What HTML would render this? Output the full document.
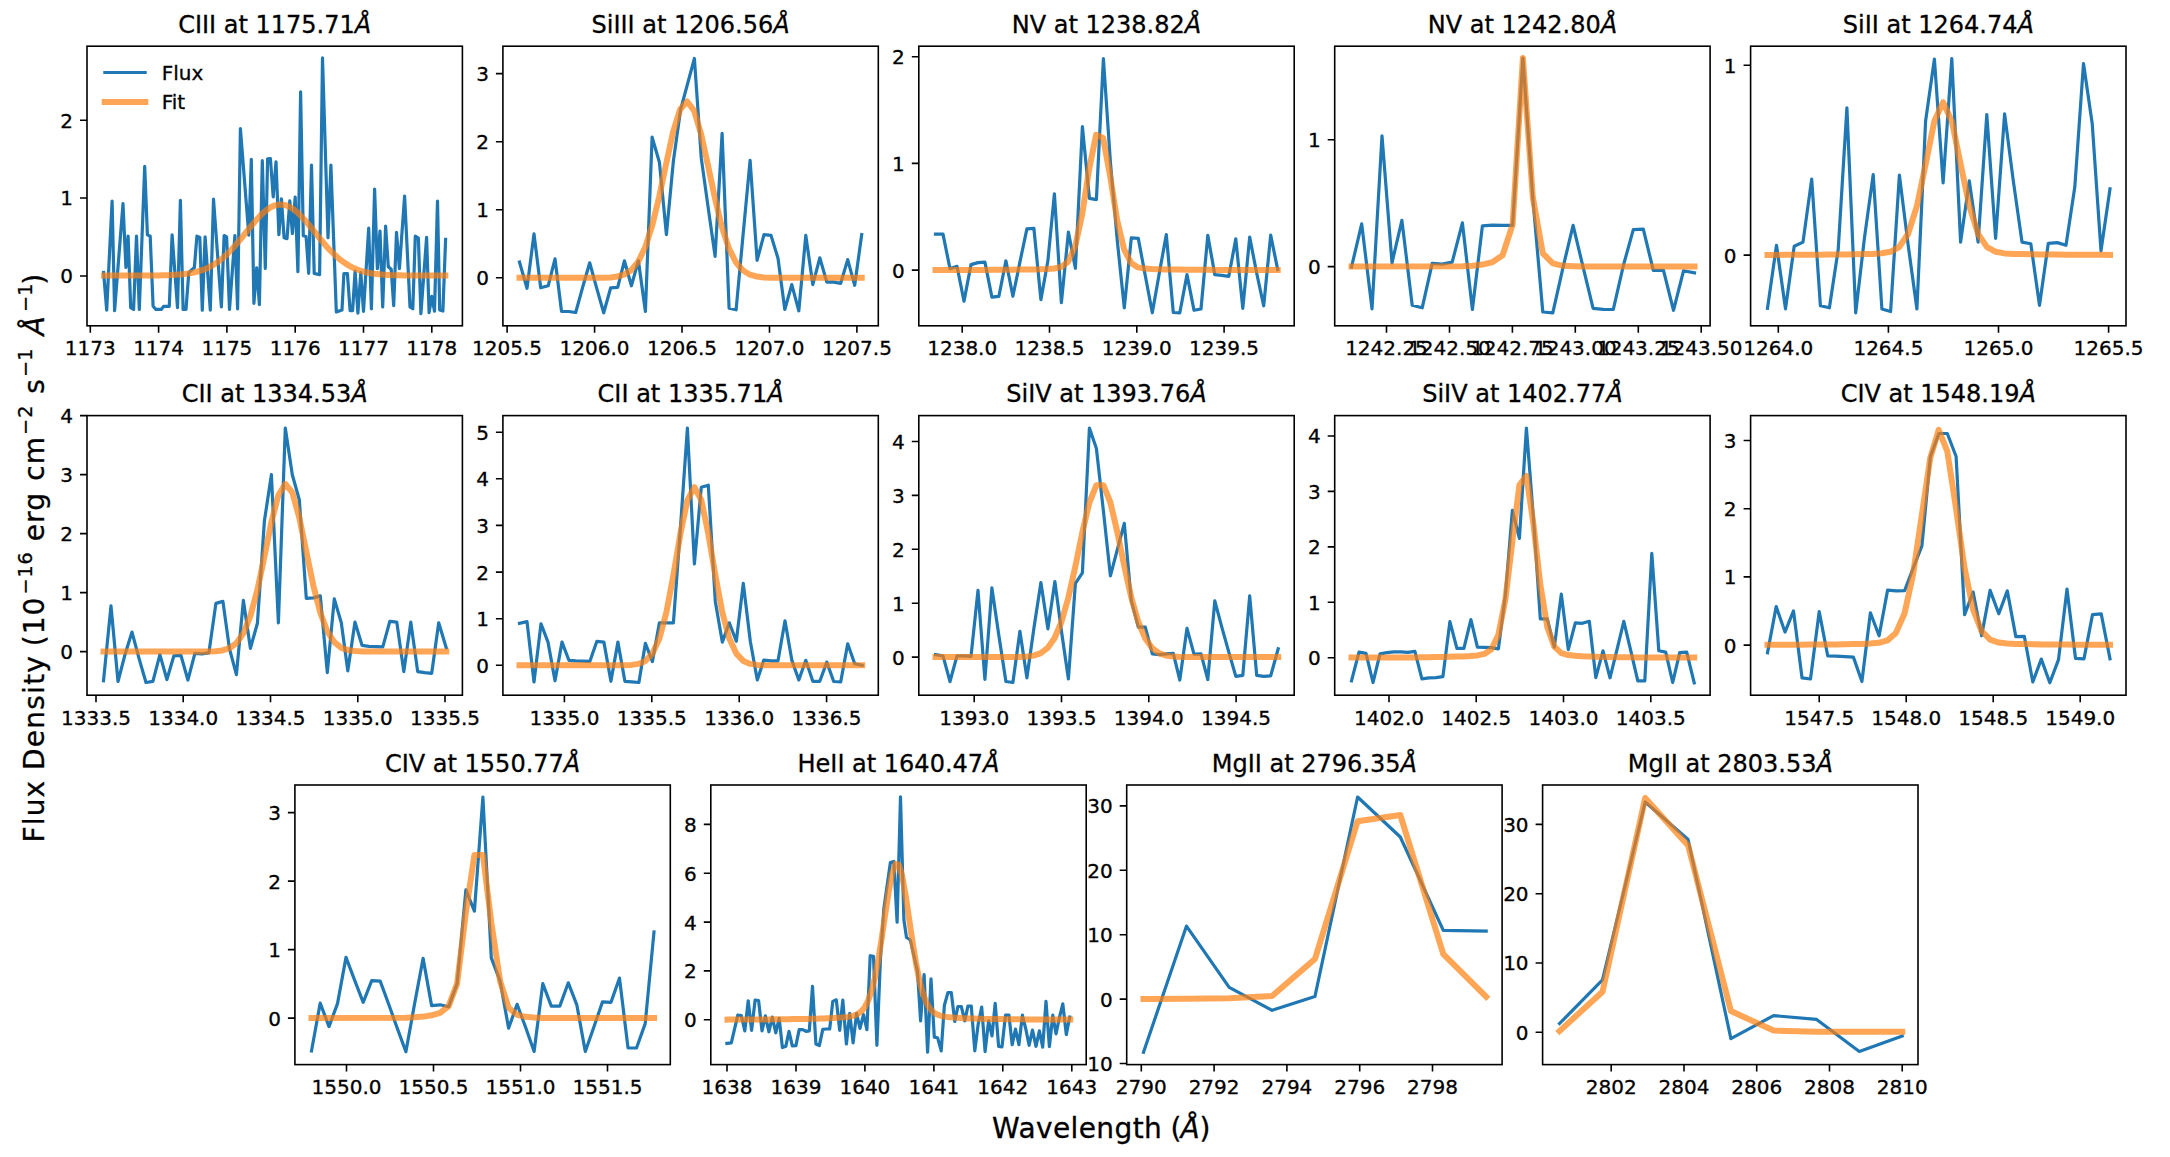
<!DOCTYPE html>
<html lang="en"><head><meta charset="utf-8"><title>Emission line fits</title>
<style>html,body{margin:0;padding:0;background:#fff}svg{display:block}text{font-family:"DejaVu Sans","Liberation Sans",sans-serif;fill:#000;stroke:#000;stroke-width:0.3px}.tk{font-size:20px}.ti{font-size:24px}.al{font-size:28px}.ax{fill:none;stroke:#000;stroke-width:1.6;stroke-linejoin:miter}.t{stroke:#000;stroke-width:1.6}.b{fill:none;stroke:#1f77b4;stroke-width:3.2;stroke-linejoin:round;stroke-linecap:square}.o{fill:none;stroke:#ff7f0e;stroke-opacity:0.7;stroke-width:6;stroke-linejoin:round;stroke-linecap:square}.i{font-style:oblique}</style></head><body>
<svg width="2170" height="1157" viewBox="0 0 2170 1157">
<rect width="2170" height="1157" fill="#fff"/>
<g id="p1">
<clipPath id="c1"><rect x="87.0" y="46.2" width="375.4" height="279.6"/></clipPath>
<rect x="87.0" y="46.2" width="375.4" height="279.6" fill="#fff"/>
<g clip-path="url(#c1)">
<polyline class="b" points="103.6,272.5 106.7,310.1 112.1,201.0 114.6,310.7 123.0,203.5 125.9,267.5 128.1,236.1 130.7,307.6 133.6,309.4 136.5,236.1 139.3,309.4 144.7,166.3 147.4,234.9 150.2,236.1 153.1,306.3 155.9,309.4 161.2,309.4 163.7,306.3 169.3,306.3 172.1,234.9 177.5,307.6 180.4,200.4 183.1,309.4 186.0,309.4 188.8,272.5 194.4,267.5 196.9,236.1 199.8,237.4 202.3,310.1 205.1,236.8 210.3,310.1 213.5,199.2 221.4,306.9 224.1,235.5 226.6,236.8 229.5,309.4 234.9,235.5 237.6,308.8 240.4,128.7 248.8,235.2 251.3,159.4 253.9,303.3 256.7,267.8 259.4,304.6 262.3,160.7 265.3,268.4 267.6,158.8 270.4,158.5 273.2,197.0 276.0,161.9 278.9,234.6 281.4,198.9 284.1,237.7 287.0,238.7 289.8,200.8 292.4,233.7 295.2,197.0 297.9,271.6 300.6,91.8 303.3,235.8 306.1,236.5 308.7,273.4 311.5,165.0 314.2,273.4 319.6,274.7 322.5,57.9 328.0,237.7 330.9,165.0 336.3,311.9 342.0,310.0 343.9,273.7 347.4,273.5 350.1,310.7 352.6,310.7 355.1,271.2 357.9,313.2 360.8,272.5 363.5,311.3 368.7,228.0 371.4,308.8 374.6,189.1 377.4,268.7 380.0,231.1 382.7,306.9 385.6,226.1 388.3,266.8 391.2,269.3 393.7,305.7 396.5,232.4 399.4,268.7 404.6,196.0 410.0,306.9 412.8,308.8 415.3,236.1 418.4,238.0 420.9,313.6 426.6,237.4 429.1,312.6 431.8,296.3 434.5,311.1 437.5,201.0 439.7,310.0 442.9,311.0 445.6,239.3"/>
<polyline class="o" points="104.1,275.5 106.9,275.5 109.6,275.5 112.4,275.5 115.1,275.5 117.9,275.5 120.6,275.5 123.4,275.5 126.1,275.5 128.9,275.5 131.6,275.5 134.4,275.5 137.1,275.5 139.9,275.5 142.6,275.5 145.4,275.5 148.1,275.5 150.9,275.4 153.6,275.4 156.4,275.4 159.1,275.4 161.9,275.3 164.6,275.2 167.4,275.2 170.1,275.1 172.9,275.0 175.6,274.8 178.4,274.6 181.1,274.4 183.9,274.1 186.6,273.7 189.4,273.3 192.2,272.8 194.9,272.2 197.7,271.5 200.4,270.7 203.2,269.7 205.9,268.6 208.7,267.4 211.4,265.9 214.2,264.3 216.9,262.5 219.7,260.5 222.4,258.3 225.2,255.9 227.9,253.3 230.7,250.5 233.4,247.5 236.2,244.4 238.9,241.1 241.7,237.8 244.4,234.4 247.2,231.0 249.9,227.5 252.7,224.2 255.4,221.0 258.2,217.9 260.9,215.0 263.7,212.4 266.4,210.2 269.2,208.2 271.9,206.6 274.7,205.5 277.5,204.8 280.2,204.5 283.0,204.7 285.7,205.3 288.5,206.4 291.2,207.8 294.0,209.7 296.7,211.9 299.5,214.5 302.2,217.3 305.0,220.3 307.7,223.5 310.5,226.8 313.2,230.2 316.0,233.7 318.7,237.1 321.5,240.4 324.2,243.7 327.0,246.9 329.7,249.9 332.5,252.7 335.2,255.3 338.0,257.8 340.7,260.0 343.5,262.1 346.2,263.9 349.0,265.6 351.7,267.1 354.5,268.4 357.2,269.5 360.0,270.5 362.8,271.4 365.5,272.1 368.3,272.7 371.0,273.2 373.8,273.7 376.5,274.0 379.3,274.3 382.0,274.6 384.8,274.8 387.5,274.9 390.3,275.1 393.0,275.2 395.8,275.2 398.5,275.3 401.3,275.3 404.0,275.4 406.8,275.4 409.5,275.4 412.3,275.5 415.0,275.5 417.8,275.5 420.5,275.5 423.3,275.5 426.0,275.5 428.8,275.5 431.5,275.5 434.3,275.5 437.0,275.5 439.8,275.5 442.5,275.5 445.3,275.5"/>
</g>
<path class="t" d="M90.3 325.8v7.0M158.6 325.8v7.0M226.9 325.8v7.0M295.2 325.8v7.0M363.5 325.8v7.0M431.8 325.8v7.0M87.0 276.0h-7.0M87.0 198.0h-7.0M87.0 120.2h-7.0"/>
<rect class="ax" x="87.0" y="46.2" width="375.4" height="279.6"/>
<text class="tk" x="90.3" y="355.1" text-anchor="middle">1173</text>
<text class="tk" x="158.6" y="355.1" text-anchor="middle">1174</text>
<text class="tk" x="226.9" y="355.1" text-anchor="middle">1175</text>
<text class="tk" x="295.2" y="355.1" text-anchor="middle">1176</text>
<text class="tk" x="363.5" y="355.1" text-anchor="middle">1177</text>
<text class="tk" x="431.8" y="355.1" text-anchor="middle">1178</text>
<text class="tk" x="73.0" y="283.4" text-anchor="end">0</text>
<text class="tk" x="73.0" y="205.4" text-anchor="end">1</text>
<text class="tk" x="73.0" y="127.6" text-anchor="end">2</text>
<text class="ti" x="274.7" y="32.8" text-anchor="middle">CIII at 1175.71<tspan class="i">Å</tspan></text>
<path class="b" style="stroke-linecap:butt" d="M103.3 72.5H146.7"/>
<path class="o" style="stroke-linecap:butt" d="M101.7 102H148.3"/>
<text class="tk" x="161.7" y="79.8">Flux</text>
<text class="tk" x="161.7" y="109">Fit</text>
</g>
<g id="p2">
<clipPath id="c2"><rect x="502.9" y="46.2" width="375.4" height="279.6"/></clipPath>
<rect x="502.9" y="46.2" width="375.4" height="279.6" fill="#fff"/>
<g clip-path="url(#c2)">
<polyline class="b" points="519.5,262.1 527.0,288.3 534.0,233.9 540.7,287.8 548.2,285.8 555.0,258.8 561.5,311.3 568.7,311.5 575.7,312.5 582.7,287.1 589.7,262.8 596.4,287.1 603.7,312.8 610.7,287.8 617.7,287.3 624.4,260.8 631.4,285.8 638.4,260.8 645.4,311.5 652.1,137.2 659.4,162.2 666.4,234.6 673.4,160.9 680.6,109.7 694.4,58.5 701.3,158.4 708.1,207.1 715.1,256.3 722.1,133.4 729.1,308.3 736.1,309.8 743.1,234.6 750.1,160.4 757.1,260.3 764.0,234.6 771.0,235.4 778.0,258.3 784.8,309.5 791.8,284.6 798.8,310.8 805.8,235.4 812.8,284.6 819.8,257.8 826.8,282.1 833.7,282.1 840.7,283.3 847.7,259.6 854.7,285.3 861.7,234.6"/>
<polyline class="o" points="519.5,277.8 526.5,277.8 533.5,277.8 540.4,277.8 547.4,277.8 554.4,277.8 561.4,277.8 568.4,277.8 575.4,277.8 582.3,277.8 589.3,277.8 596.3,277.8 603.3,277.7 610.3,277.4 617.3,276.5 624.3,274.5 631.2,270.1 638.2,261.7 645.2,247.3 652.2,225.5 659.2,196.6 666.2,163.5 673.1,132.0 680.1,109.4 687.1,101.5 694.1,110.6 701.1,134.1 708.1,165.9 715.1,198.9 722.0,227.4 729.0,248.6 736.0,262.5 743.0,270.5 750.0,274.7 757.0,276.6 763.9,277.4 770.9,277.7 777.9,277.8 784.9,277.8 791.9,277.8 798.9,277.8 805.8,277.8 812.8,277.8 819.8,277.8 826.8,277.8 833.8,277.8 840.8,277.8 847.8,277.8 854.7,277.8 861.7,277.8"/>
</g>
<path class="t" d="M507.1 325.8v7.0M594.6 325.8v7.0M682.0 325.8v7.0M769.5 325.8v7.0M856.9 325.8v7.0M502.9 277.8h-7.0M502.9 209.8h-7.0M502.9 141.7h-7.0M502.9 73.6h-7.0"/>
<rect class="ax" x="502.9" y="46.2" width="375.4" height="279.6"/>
<text class="tk" x="507.1" y="355.1" text-anchor="middle">1205.5</text>
<text class="tk" x="594.6" y="355.1" text-anchor="middle">1206.0</text>
<text class="tk" x="682.0" y="355.1" text-anchor="middle">1206.5</text>
<text class="tk" x="769.5" y="355.1" text-anchor="middle">1207.0</text>
<text class="tk" x="856.9" y="355.1" text-anchor="middle">1207.5</text>
<text class="tk" x="488.9" y="285.2" text-anchor="end">0</text>
<text class="tk" x="488.9" y="217.2" text-anchor="end">1</text>
<text class="tk" x="488.9" y="149.1" text-anchor="end">2</text>
<text class="tk" x="488.9" y="81.0" text-anchor="end">3</text>
<text class="ti" x="690.6" y="32.8" text-anchor="middle">SiIII at 1206.56<tspan class="i">Å</tspan></text>
</g>
<g id="p3">
<clipPath id="c3"><rect x="918.8" y="46.2" width="375.4" height="279.6"/></clipPath>
<rect x="918.8" y="46.2" width="375.4" height="279.6" fill="#fff"/>
<g clip-path="url(#c3)">
<polyline class="b" points="935.5,234.1 943.0,234.1 950.0,268.8 957.0,266.3 964.0,301.3 971.0,264.6 978.0,262.6 984.9,262.1 991.9,297.1 998.9,296.3 1005.9,260.8 1012.9,296.3 1019.9,262.1 1026.9,228.9 1033.9,228.4 1040.9,299.6 1047.9,260.8 1054.4,193.9 1061.4,302.6 1068.4,232.1 1075.4,268.3 1082.4,126.7 1089.4,198.4 1096.4,199.6 1103.4,58.5 1110.4,162.2 1117.3,240.9 1124.3,307.8 1131.3,237.9 1138.3,238.4 1145.3,275.8 1152.3,312.8 1159.3,273.3 1166.3,234.6 1173.3,312.5 1179.8,312.8 1187.0,274.6 1194.0,310.3 1201.0,309.0 1207.8,235.4 1214.8,274.6 1221.8,275.3 1228.8,276.3 1235.8,238.9 1242.8,308.3 1249.7,237.1 1256.7,273.3 1263.7,305.8 1270.7,235.1 1277.7,269.6"/>
<polyline class="o" points="935.5,270.0 942.5,270.0 949.5,269.9 956.4,269.9 963.4,269.9 970.4,269.9 977.4,269.9 984.4,269.9 991.4,269.8 998.3,269.8 1005.3,269.7 1012.3,269.7 1019.3,269.6 1026.3,269.5 1033.3,269.4 1040.3,269.3 1047.2,269.0 1054.2,268.5 1061.2,267.0 1068.2,261.6 1075.2,246.3 1082.2,214.1 1089.1,169.3 1096.1,134.8 1103.1,137.9 1110.1,175.9 1117.1,219.9 1124.1,249.4 1131.1,262.9 1138.0,267.4 1145.0,268.6 1152.0,269.1 1159.0,269.3 1166.0,269.4 1173.0,269.5 1179.9,269.6 1186.9,269.7 1193.9,269.8 1200.9,269.8 1207.9,269.8 1214.9,269.9 1221.8,269.9 1228.8,269.9 1235.8,269.9 1242.8,269.9 1249.8,269.9 1256.8,270.0 1263.8,270.0 1270.7,270.0 1277.7,270.0"/>
</g>
<path class="t" d="M962.2 325.8v7.0M1049.5 325.8v7.0M1136.8 325.8v7.0M1224.1 325.8v7.0M918.8 270.1h-7.0M918.8 163.4h-7.0M918.8 56.7h-7.0"/>
<rect class="ax" x="918.8" y="46.2" width="375.4" height="279.6"/>
<text class="tk" x="962.2" y="355.1" text-anchor="middle">1238.0</text>
<text class="tk" x="1049.5" y="355.1" text-anchor="middle">1238.5</text>
<text class="tk" x="1136.8" y="355.1" text-anchor="middle">1239.0</text>
<text class="tk" x="1224.1" y="355.1" text-anchor="middle">1239.5</text>
<text class="tk" x="904.8" y="277.5" text-anchor="end">0</text>
<text class="tk" x="904.8" y="170.8" text-anchor="end">1</text>
<text class="tk" x="904.8" y="64.1" text-anchor="end">2</text>
<text class="ti" x="1106.5" y="32.8" text-anchor="middle">NV at 1238.82<tspan class="i">Å</tspan></text>
</g>
<g id="p4">
<clipPath id="c4"><rect x="1334.7" y="46.2" width="375.4" height="279.6"/></clipPath>
<rect x="1334.7" y="46.2" width="375.4" height="279.6" fill="#fff"/>
<g clip-path="url(#c4)">
<polyline class="b" points="1351.5,267.1 1361.7,223.9 1372.0,308.8 1382.0,135.9 1392.0,262.8 1401.9,220.4 1412.2,305.3 1422.2,307.8 1432.2,263.3 1442.2,264.1 1452.2,262.1 1462.4,222.9 1472.4,309.5 1482.4,225.9 1492.6,225.1 1502.6,225.4 1512.6,225.4 1522.9,58.0 1532.8,198.4 1542.8,312.0 1552.8,312.8 1563.1,267.1 1573.1,225.4 1583.1,267.1 1593.1,308.3 1603.3,309.3 1613.3,309.5 1623.3,265.8 1633.3,229.6 1643.3,229.1 1653.3,270.3 1663.5,270.3 1673.5,310.3 1683.5,270.8 1694.5,272.8"/>
<polyline class="o" points="1351.5,266.6 1462.4,266.3 1472.4,265.8 1482.4,264.6 1492.6,262.1 1502.6,255.3 1512.6,224.6 1522.9,58.0 1532.8,197.1 1542.8,253.3 1552.8,263.3 1563.1,265.8 1573.1,266.3 1583.1,266.6 1694.5,266.6"/>
</g>
<path class="t" d="M1386.5 325.8v7.0M1449.5 325.8v7.0M1512.4 325.8v7.0M1575.3 325.8v7.0M1638.3 325.8v7.0M1701.2 325.8v7.0M1334.7 266.6h-7.0M1334.7 139.7h-7.0"/>
<rect class="ax" x="1334.7" y="46.2" width="375.4" height="279.6"/>
<text class="tk" x="1386.5" y="355.1" text-anchor="middle">1242.25</text>
<text class="tk" x="1449.5" y="355.1" text-anchor="middle">1242.50</text>
<text class="tk" x="1512.4" y="355.1" text-anchor="middle">1242.75</text>
<text class="tk" x="1575.3" y="355.1" text-anchor="middle">1243.00</text>
<text class="tk" x="1638.3" y="355.1" text-anchor="middle">1243.25</text>
<text class="tk" x="1701.2" y="355.1" text-anchor="middle">1243.50</text>
<text class="tk" x="1320.7" y="274.0" text-anchor="end">0</text>
<text class="tk" x="1320.7" y="147.1" text-anchor="end">1</text>
<text class="ti" x="1522.4" y="32.8" text-anchor="middle">NV at 1242.80<tspan class="i">Å</tspan></text>
</g>
<g id="p5">
<clipPath id="c5"><rect x="1750.6" y="46.2" width="375.4" height="279.6"/></clipPath>
<rect x="1750.6" y="46.2" width="375.4" height="279.6" fill="#fff"/>
<g clip-path="url(#c5)">
<polyline class="b" points="1767.5,308.3 1776.5,245.3 1785.5,308.8 1794.2,246.3 1803.0,242.1 1811.7,179.1 1820.4,305.8 1829.4,307.8 1838.2,249.6 1846.9,107.9 1855.7,312.8 1864.4,238.4 1873.2,174.6 1881.9,309.0 1890.6,311.5 1899.4,175.1 1908.1,244.6 1916.9,309.0 1925.6,120.9 1934.4,59.0 1943.1,182.9 1951.8,58.5 1960.6,242.1 1969.3,180.9 1978.1,242.1 1986.8,114.7 1995.6,238.4 2004.6,113.9 2013.3,180.9 2022.0,242.1 2030.8,243.8 2039.5,305.3 2048.3,243.3 2057.3,242.6 2066.0,245.3 2074.8,187.1 2083.5,63.5 2092.2,123.4 2101.0,250.8 2110.0,188.9"/>
<polyline class="o" points="1767.5,254.9 1776.3,254.9 1785.0,254.8 1793.8,254.8 1802.6,254.8 1811.4,254.7 1820.2,254.7 1829.0,254.6 1837.7,254.5 1846.5,254.4 1855.3,254.3 1864.1,254.1 1872.9,253.9 1881.6,253.3 1890.4,251.8 1899.2,247.0 1908.0,234.0 1916.8,206.5 1925.6,164.4 1934.3,121.3 1943.1,102.2 1951.9,121.4 1960.7,164.6 1969.5,206.7 1978.2,234.1 1987.0,247.1 1995.8,251.8 2004.6,253.4 2013.4,253.9 2022.2,254.1 2030.9,254.3 2039.7,254.4 2048.5,254.5 2057.3,254.6 2066.1,254.7 2074.8,254.7 2083.6,254.8 2092.4,254.8 2101.2,254.8 2110.0,254.9"/>
</g>
<path class="t" d="M1778.3 325.8v7.0M1888.4 325.8v7.0M1998.5 325.8v7.0M2108.6 325.8v7.0M1750.6 255.1h-7.0M1750.6 65.2h-7.0"/>
<rect class="ax" x="1750.6" y="46.2" width="375.4" height="279.6"/>
<text class="tk" x="1778.3" y="355.1" text-anchor="middle">1264.0</text>
<text class="tk" x="1888.4" y="355.1" text-anchor="middle">1264.5</text>
<text class="tk" x="1998.5" y="355.1" text-anchor="middle">1265.0</text>
<text class="tk" x="2108.6" y="355.1" text-anchor="middle">1265.5</text>
<text class="tk" x="1736.6" y="262.5" text-anchor="end">0</text>
<text class="tk" x="1736.6" y="72.6" text-anchor="end">1</text>
<text class="ti" x="1938.3" y="32.8" text-anchor="middle">SiII at 1264.74<tspan class="i">Å</tspan></text>
</g>
<g id="p6">
<clipPath id="c6"><rect x="87.0" y="415.6" width="375.4" height="279.6"/></clipPath>
<rect x="87.0" y="415.6" width="375.4" height="279.6" fill="#fff"/>
<g clip-path="url(#c6)">
<polyline class="b" points="103.5,680.8 111.0,605.9 118.0,681.5 125.0,654.6 132.0,632.1 139.0,658.3 146.0,682.5 152.9,681.3 159.9,654.6 166.9,679.5 173.9,655.8 180.9,655.3 187.9,680.0 194.9,653.3 201.9,653.8 208.9,652.8 215.9,603.4 222.9,601.4 229.4,648.3 236.4,674.6 243.4,600.4 250.4,648.3 257.4,623.3 264.4,520.9 271.4,474.7 278.4,622.8 285.3,428.0 292.3,474.7 299.3,499.7 306.3,598.4 313.3,597.9 320.3,595.9 327.3,672.6 334.3,598.9 341.3,622.8 347.8,670.8 355.0,622.1 362.0,645.3 369.0,646.3 375.8,646.6 382.8,646.8 389.8,621.3 396.8,622.1 403.8,671.6 410.8,622.1 417.7,671.6 424.7,672.6 431.7,673.3 438.7,622.8 446.2,647.8"/>
<polyline class="o" points="103.5,651.6 110.5,651.6 117.5,651.6 124.5,651.6 131.5,651.6 138.5,651.6 145.5,651.6 152.4,651.6 159.4,651.6 166.4,651.6 173.4,651.6 180.4,651.6 187.4,651.6 194.4,651.6 201.4,651.5 208.4,651.5 215.4,651.2 222.4,650.4 229.4,648.2 236.4,643.3 243.4,633.3 250.4,615.9 257.4,589.8 264.4,556.6 271.4,522.1 278.4,495.1 285.3,484.0 292.3,492.4 299.3,517.6 306.3,551.5 313.3,585.4 320.3,612.7 327.3,631.4 334.3,642.2 341.3,647.8 348.3,650.2 355.3,651.1 362.3,651.4 369.3,651.5 376.3,651.6 383.3,651.6 390.3,651.6 397.3,651.6 404.3,651.6 411.3,651.6 418.2,651.6 425.2,651.6 432.2,651.6 439.2,651.6 446.2,651.6"/>
</g>
<path class="t" d="M96.0 695.2v7.0M183.2 695.2v7.0M270.5 695.2v7.0M357.8 695.2v7.0M445.0 695.2v7.0M87.0 651.6h-7.0M87.0 592.6h-7.0M87.0 533.6h-7.0M87.0 474.6h-7.0M87.0 415.6h-7.0"/>
<rect class="ax" x="87.0" y="415.6" width="375.4" height="279.6"/>
<text class="tk" x="96.0" y="724.5" text-anchor="middle">1333.5</text>
<text class="tk" x="183.2" y="724.5" text-anchor="middle">1334.0</text>
<text class="tk" x="270.5" y="724.5" text-anchor="middle">1334.5</text>
<text class="tk" x="357.8" y="724.5" text-anchor="middle">1335.0</text>
<text class="tk" x="445.0" y="724.5" text-anchor="middle">1335.5</text>
<text class="tk" x="73.0" y="659.0" text-anchor="end">0</text>
<text class="tk" x="73.0" y="600.0" text-anchor="end">1</text>
<text class="tk" x="73.0" y="541.0" text-anchor="end">2</text>
<text class="tk" x="73.0" y="482.0" text-anchor="end">3</text>
<text class="tk" x="73.0" y="423.0" text-anchor="end">4</text>
<text class="ti" x="274.7" y="402.2" text-anchor="middle">CII at 1334.53<tspan class="i">Å</tspan></text>
</g>
<g id="p7">
<clipPath id="c7"><rect x="502.9" y="415.6" width="375.4" height="279.6"/></clipPath>
<rect x="502.9" y="415.6" width="375.4" height="279.6" fill="#fff"/>
<g clip-path="url(#c7)">
<polyline class="b" points="519.5,623.3 527.0,621.6 534.0,682.0 541.0,623.8 548.0,642.1 555.0,680.8 562.0,642.1 568.9,660.3 575.9,660.8 582.9,661.1 589.9,661.3 596.9,641.3 603.9,642.1 610.9,681.3 617.9,642.1 624.9,681.3 631.9,681.8 638.9,682.5 645.4,643.3 652.4,661.6 659.4,622.8 666.4,622.8 673.4,622.8 680.4,528.4 687.4,428.0 694.4,563.9 701.3,487.2 708.3,485.2 715.3,601.4 722.3,642.1 729.3,622.8 736.3,641.3 743.3,583.4 750.3,641.3 757.3,680.0 763.8,660.1 771.0,660.8 778.0,660.8 785.0,620.8 791.8,660.1 798.8,680.0 805.8,660.3 812.8,681.3 819.8,681.3 826.8,662.1 833.7,681.5 840.7,682.0 847.7,643.8 854.7,663.8 862.2,665.3"/>
<polyline class="o" points="519.5,665.3 526.5,665.3 533.5,665.3 540.5,665.3 547.5,665.3 554.5,665.3 561.5,665.3 568.4,665.3 575.4,665.3 582.4,665.3 589.4,665.3 596.4,665.3 603.4,665.3 610.4,665.3 617.4,665.3 624.4,665.2 631.4,664.9 638.4,663.9 645.4,660.9 652.4,653.6 659.4,638.4 666.4,612.2 673.4,575.1 680.4,533.7 687.4,500.2 694.4,487.2 701.3,500.2 708.3,533.7 715.3,575.1 722.3,612.2 729.3,638.4 736.3,653.6 743.3,660.9 750.3,663.9 757.3,664.9 764.3,665.2 771.3,665.3 778.3,665.3 785.3,665.3 792.3,665.3 799.3,665.3 806.3,665.3 813.3,665.3 820.3,665.3 827.3,665.3 834.2,665.3 841.2,665.3 848.2,665.3 855.2,665.3 862.2,665.3"/>
</g>
<path class="t" d="M564.4 695.2v7.0M651.8 695.2v7.0M739.2 695.2v7.0M826.6 695.2v7.0M502.9 665.3h-7.0M502.9 618.7h-7.0M502.9 572.1h-7.0M502.9 525.4h-7.0M502.9 478.8h-7.0M502.9 432.2h-7.0"/>
<rect class="ax" x="502.9" y="415.6" width="375.4" height="279.6"/>
<text class="tk" x="564.4" y="724.5" text-anchor="middle">1335.0</text>
<text class="tk" x="651.8" y="724.5" text-anchor="middle">1335.5</text>
<text class="tk" x="739.2" y="724.5" text-anchor="middle">1336.0</text>
<text class="tk" x="826.6" y="724.5" text-anchor="middle">1336.5</text>
<text class="tk" x="488.9" y="672.7" text-anchor="end">0</text>
<text class="tk" x="488.9" y="626.1" text-anchor="end">1</text>
<text class="tk" x="488.9" y="579.5" text-anchor="end">2</text>
<text class="tk" x="488.9" y="532.8" text-anchor="end">3</text>
<text class="tk" x="488.9" y="486.2" text-anchor="end">4</text>
<text class="tk" x="488.9" y="439.6" text-anchor="end">5</text>
<text class="ti" x="690.6" y="402.2" text-anchor="middle">CII at 1335.71<tspan class="i">Å</tspan></text>
</g>
<g id="p8">
<clipPath id="c8"><rect x="918.8" y="415.6" width="375.4" height="279.6"/></clipPath>
<rect x="918.8" y="415.6" width="375.4" height="279.6" fill="#fff"/>
<g clip-path="url(#c8)">
<polyline class="b" points="935.5,654.6 943.0,655.8 950.0,681.5 957.0,655.8 964.0,655.8 971.0,656.3 978.0,590.4 984.9,679.5 991.9,587.9 998.9,635.8 1005.9,681.5 1012.9,682.5 1019.9,631.3 1026.9,677.8 1033.9,628.3 1040.9,582.6 1047.9,628.8 1054.9,581.6 1061.4,630.8 1068.4,679.0 1075.4,583.4 1082.4,572.9 1089.4,428.0 1096.4,448.5 1103.4,510.9 1110.4,575.9 1117.3,549.6 1124.3,523.4 1131.3,600.9 1138.3,627.1 1145.3,627.1 1152.3,653.8 1159.3,654.6 1166.3,653.8 1173.3,653.3 1179.8,680.0 1187.0,628.3 1194.0,654.1 1201.0,653.8 1207.8,679.5 1214.8,600.9 1221.8,627.1 1228.8,652.1 1235.8,676.3 1242.8,675.3 1249.7,595.9 1256.7,675.3 1263.7,676.3 1270.7,675.8 1278.2,648.8"/>
<polyline class="o" points="935.5,657.1 942.5,657.1 949.5,657.1 956.5,657.1 963.5,657.1 970.5,657.1 977.5,657.1 984.4,657.1 991.4,657.1 998.4,657.1 1005.4,657.1 1012.4,657.0 1019.4,656.9 1026.4,656.6 1033.4,655.6 1040.4,653.3 1047.4,648.2 1054.4,638.5 1061.4,622.0 1068.4,597.5 1075.4,566.1 1082.4,532.0 1089.4,502.5 1096.4,485.2 1103.4,485.2 1110.4,502.5 1117.3,532.0 1124.3,566.1 1131.3,597.5 1138.3,622.0 1145.3,638.5 1152.3,648.2 1159.3,653.3 1166.3,655.6 1173.3,656.6 1180.3,656.9 1187.3,657.0 1194.3,657.1 1201.3,657.1 1208.3,657.1 1215.3,657.1 1222.3,657.1 1229.3,657.1 1236.3,657.1 1243.3,657.1 1250.2,657.1 1257.2,657.1 1264.2,657.1 1271.2,657.1 1278.2,657.1"/>
</g>
<path class="t" d="M974.2 695.2v7.0M1061.5 695.2v7.0M1148.8 695.2v7.0M1236.1 695.2v7.0M918.8 657.1h-7.0M918.8 603.2h-7.0M918.8 549.3h-7.0M918.8 495.4h-7.0M918.8 441.5h-7.0"/>
<rect class="ax" x="918.8" y="415.6" width="375.4" height="279.6"/>
<text class="tk" x="974.2" y="724.5" text-anchor="middle">1393.0</text>
<text class="tk" x="1061.5" y="724.5" text-anchor="middle">1393.5</text>
<text class="tk" x="1148.8" y="724.5" text-anchor="middle">1394.0</text>
<text class="tk" x="1236.1" y="724.5" text-anchor="middle">1394.5</text>
<text class="tk" x="904.8" y="664.5" text-anchor="end">0</text>
<text class="tk" x="904.8" y="610.6" text-anchor="end">1</text>
<text class="tk" x="904.8" y="556.7" text-anchor="end">2</text>
<text class="tk" x="904.8" y="502.8" text-anchor="end">3</text>
<text class="tk" x="904.8" y="448.9" text-anchor="end">4</text>
<text class="ti" x="1106.5" y="402.2" text-anchor="middle">SiIV at 1393.76<tspan class="i">Å</tspan></text>
</g>
<g id="p9">
<clipPath id="c9"><rect x="1334.7" y="415.6" width="375.4" height="279.6"/></clipPath>
<rect x="1334.7" y="415.6" width="375.4" height="279.6" fill="#fff"/>
<g clip-path="url(#c9)">
<polyline class="b" points="1351.5,680.8 1359.0,652.1 1366.0,653.3 1373.0,682.5 1380.0,653.8 1387.0,652.6 1394.0,651.8 1400.9,651.8 1407.9,652.3 1414.9,651.3 1421.9,678.8 1428.9,677.8 1435.9,677.6 1442.9,676.6 1449.9,621.6 1456.9,648.3 1463.9,648.3 1470.9,619.6 1477.4,647.1 1484.4,647.3 1491.4,647.6 1498.4,648.8 1505.4,594.6 1512.4,510.4 1519.4,538.4 1526.4,428.0 1533.3,515.9 1540.3,618.8 1547.3,618.8 1554.3,647.1 1561.3,594.1 1568.3,649.6 1575.3,622.8 1582.3,623.3 1589.3,621.3 1595.8,677.6 1603.0,650.8 1610.0,677.8 1617.0,649.6 1623.8,621.3 1630.8,650.8 1637.8,680.8 1644.8,680.8 1651.8,553.4 1658.8,650.8 1665.7,652.1 1672.7,682.5 1679.7,652.6 1686.7,652.1 1694.2,682.8"/>
<polyline class="o" points="1351.5,657.6 1358.5,657.6 1365.5,657.6 1372.5,657.6 1379.5,657.6 1386.5,657.5 1393.5,657.5 1400.4,657.5 1407.4,657.4 1414.4,657.4 1421.4,657.3 1428.4,657.2 1435.4,657.1 1442.4,657.0 1449.4,656.8 1456.4,656.6 1463.4,656.4 1470.4,656.0 1477.4,655.4 1484.4,653.9 1491.4,649.3 1498.4,634.7 1505.4,599.3 1512.4,541.1 1519.4,485.0 1526.4,475.9 1533.3,523.0 1540.3,584.5 1547.3,627.2 1554.3,646.6 1561.3,653.1 1568.3,655.1 1575.3,655.8 1582.3,656.3 1589.3,656.6 1596.3,656.8 1603.3,657.0 1610.3,657.1 1617.3,657.2 1624.3,657.3 1631.3,657.3 1638.3,657.4 1645.3,657.4 1652.3,657.5 1659.3,657.5 1666.2,657.5 1673.2,657.6 1680.2,657.6 1687.2,657.6 1694.2,657.6"/>
</g>
<path class="t" d="M1389.0 695.2v7.0M1476.2 695.2v7.0M1563.5 695.2v7.0M1650.8 695.2v7.0M1334.7 657.8h-7.0M1334.7 602.3h-7.0M1334.7 546.9h-7.0M1334.7 491.4h-7.0M1334.7 436.0h-7.0"/>
<rect class="ax" x="1334.7" y="415.6" width="375.4" height="279.6"/>
<text class="tk" x="1389.0" y="724.5" text-anchor="middle">1402.0</text>
<text class="tk" x="1476.2" y="724.5" text-anchor="middle">1402.5</text>
<text class="tk" x="1563.5" y="724.5" text-anchor="middle">1403.0</text>
<text class="tk" x="1650.8" y="724.5" text-anchor="middle">1403.5</text>
<text class="tk" x="1320.7" y="665.2" text-anchor="end">0</text>
<text class="tk" x="1320.7" y="609.7" text-anchor="end">1</text>
<text class="tk" x="1320.7" y="554.3" text-anchor="end">2</text>
<text class="tk" x="1320.7" y="498.8" text-anchor="end">3</text>
<text class="tk" x="1320.7" y="443.4" text-anchor="end">4</text>
<text class="ti" x="1522.4" y="402.2" text-anchor="middle">SiIV at 1402.77<tspan class="i">Å</tspan></text>
</g>
<g id="p10">
<clipPath id="c10"><rect x="1750.6" y="415.6" width="375.4" height="279.6"/></clipPath>
<rect x="1750.6" y="415.6" width="375.4" height="279.6" fill="#fff"/>
<g clip-path="url(#c10)">
<polyline class="b" points="1767.5,652.8 1776.2,606.6 1785.0,632.1 1793.5,610.9 1802.0,677.8 1810.5,679.0 1819.2,611.6 1827.7,655.8 1836.2,656.1 1844.9,656.6 1853.4,657.1 1861.9,681.5 1870.4,612.8 1879.1,635.8 1887.6,590.1 1896.1,590.9 1904.6,590.6 1913.1,568.4 1921.9,545.9 1930.4,456.5 1938.9,433.5 1947.3,433.5 1956.1,456.5 1964.6,614.6 1973.1,592.1 1981.6,635.8 1990.1,590.4 1998.8,613.8 2007.3,590.9 2015.8,636.6 2024.3,636.3 2032.8,682.0 2041.3,659.1 2049.8,682.8 2058.5,659.6 2067.0,589.1 2075.5,658.3 2084.0,658.8 2092.5,614.6 2101.2,613.8 2110.0,658.8"/>
<polyline class="o" points="1767.5,644.8 1776.0,644.8 1784.6,644.8 1793.2,644.7 1801.7,644.7 1810.3,644.6 1818.9,644.6 1827.4,644.5 1836.0,644.4 1844.5,644.3 1853.1,644.1 1861.7,643.9 1870.2,643.6 1878.8,642.8 1887.4,640.4 1895.9,632.9 1904.5,613.5 1913.0,574.7 1921.6,516.8 1930.2,458.1 1938.7,429.9 1947.3,451.4 1955.9,507.6 1964.4,567.2 1973.0,609.2 1981.5,631.0 1990.1,639.7 1998.7,642.6 2007.2,643.5 2015.8,643.9 2024.4,644.1 2032.9,644.3 2041.5,644.4 2050.0,644.5 2058.6,644.6 2067.2,644.6 2075.7,644.7 2084.3,644.7 2092.9,644.8 2101.4,644.8 2110.0,644.8"/>
</g>
<path class="t" d="M1819.2 695.2v7.0M1906.2 695.2v7.0M1993.2 695.2v7.0M2080.2 695.2v7.0M1750.6 645.1h-7.0M1750.6 576.9h-7.0M1750.6 508.7h-7.0M1750.6 440.5h-7.0"/>
<rect class="ax" x="1750.6" y="415.6" width="375.4" height="279.6"/>
<text class="tk" x="1819.2" y="724.5" text-anchor="middle">1547.5</text>
<text class="tk" x="1906.2" y="724.5" text-anchor="middle">1548.0</text>
<text class="tk" x="1993.2" y="724.5" text-anchor="middle">1548.5</text>
<text class="tk" x="2080.2" y="724.5" text-anchor="middle">1549.0</text>
<text class="tk" x="1736.6" y="652.5" text-anchor="end">0</text>
<text class="tk" x="1736.6" y="584.3" text-anchor="end">1</text>
<text class="tk" x="1736.6" y="516.1" text-anchor="end">2</text>
<text class="tk" x="1736.6" y="447.9" text-anchor="end">3</text>
<text class="ti" x="1938.3" y="402.2" text-anchor="middle">CIV at 1548.19<tspan class="i">Å</tspan></text>
</g>
<g id="p11">
<clipPath id="c11"><rect x="294.9" y="785.0" width="375.4" height="279.6"/></clipPath>
<rect x="294.9" y="785.0" width="375.4" height="279.6" fill="#fff"/>
<g clip-path="url(#c11)">
<polyline class="b" points="311.5,1051.0 320.2,1003.1 329.0,1026.6 337.5,1003.6 346.0,957.4 354.5,979.9 363.2,1002.3 371.7,980.6 380.2,981.1 388.9,1004.8 397.4,1028.6 405.9,1051.8 414.4,1004.8 423.1,958.4 431.6,1005.6 440.1,1004.8 448.6,1006.8 457.1,983.6 465.9,889.9 474.4,911.2 482.9,797.0 491.3,957.9 500.1,981.1 508.6,1028.1 517.1,1004.3 525.6,1027.3 534.1,1051.5 542.8,983.6 551.3,1006.1 559.8,1006.1 568.3,982.8 576.8,1004.8 585.3,1051.5 593.8,1027.3 602.5,1001.8 611.0,1002.3 619.5,978.1 628.0,1047.8 636.5,1048.0 645.2,1023.6 654.0,931.9"/>
<polyline class="o" points="311.5,1018.1 405.9,1017.8 414.4,1017.3 423.1,1016.6 431.6,1015.3 440.1,1012.8 448.6,1006.1 457.1,983.6 465.9,912.4 474.4,854.9 482.9,854.9 491.3,922.4 500.1,981.1 508.6,1007.8 517.1,1014.8 525.6,1016.8 534.1,1017.6 542.8,1018.1 654.0,1018.1"/>
</g>
<path class="t" d="M346.5 1064.6v7.0M433.5 1064.6v7.0M520.5 1064.6v7.0M607.5 1064.6v7.0M294.9 1018.1h-7.0M294.9 949.6h-7.0M294.9 881.1h-7.0M294.9 812.6h-7.0"/>
<rect class="ax" x="294.9" y="785.0" width="375.4" height="279.6"/>
<text class="tk" x="346.5" y="1093.9" text-anchor="middle">1550.0</text>
<text class="tk" x="433.5" y="1093.9" text-anchor="middle">1550.5</text>
<text class="tk" x="520.5" y="1093.9" text-anchor="middle">1551.0</text>
<text class="tk" x="607.5" y="1093.9" text-anchor="middle">1551.5</text>
<text class="tk" x="280.9" y="1025.5" text-anchor="end">0</text>
<text class="tk" x="280.9" y="957.0" text-anchor="end">1</text>
<text class="tk" x="280.9" y="888.5" text-anchor="end">2</text>
<text class="tk" x="280.9" y="820.0" text-anchor="end">3</text>
<text class="ti" x="482.6" y="771.6" text-anchor="middle">CIV at 1550.77<tspan class="i">Å</tspan></text>
</g>
<g id="p12">
<clipPath id="c12"><rect x="710.8" y="785.0" width="375.4" height="279.6"/></clipPath>
<rect x="710.8" y="785.0" width="375.4" height="279.6" fill="#fff"/>
<g clip-path="url(#c12)">
<polyline class="b" points="726.9,1043.4 731.3,1042.8 737.8,1015.2 741.3,1015.5 744.8,1030.9 748.2,1000.8 751.6,1030.3 755.1,1000.2 758.6,1000.6 762.0,1030.9 765.4,1015.9 768.9,1031.8 772.3,1017.1 775.8,1032.8 779.2,1018.4 782.4,1047.6 785.8,1046.3 789.0,1031.3 792.3,1045.9 795.9,1045.6 799.2,1029.6 802.7,1029.6 806.1,1031.3 809.3,1030.9 812.5,986.4 815.9,1044.0 819.3,1045.6 822.8,1029.3 826.2,1029.0 829.7,1029.0 832.8,1001.4 836.3,999.8 839.7,1030.3 842.8,1000.2 846.4,1044.0 849.7,1013.3 853.1,1042.8 856.6,1013.3 860.0,1028.4 863.5,1014.6 866.9,1029.6 870.2,955.7 873.5,956.3 876.9,1045.3 880.4,960.0 883.8,909.0 890.4,862.6 893.8,861.5 897.1,922.2 900.5,796.9 903.9,920.0 906.5,937.5 910.3,940.0 917.5,971.4 920.6,1020.9 924.1,974.5 927.6,1052.2 931.0,978.9 934.3,1037.2 937.6,1037.8 941.2,1050.9 944.4,1005.2 947.9,992.7 951.3,992.7 954.8,1021.5 957.9,1006.5 961.3,1006.5 964.8,1020.9 967.9,1006.2 971.3,1006.2 974.8,1050.9 978.2,1024.0 981.7,1007.1 985.1,1051.6 988.6,1020.9 992.0,1035.9 995.2,1003.3 998.6,1046.3 1002.0,1046.8 1005.5,1015.2 1008.9,1015.0 1012.2,1044.7 1015.5,1029.0 1018.9,1044.7 1022.4,1015.2 1025.8,1029.0 1029.1,1045.3 1032.5,1030.0 1036.0,1046.3 1039.4,1030.9 1042.7,1047.2 1046.0,1001.4 1049.4,1046.6 1052.8,1015.2 1056.0,1033.8 1059.4,1017.7 1062.8,1003.9 1066.3,1034.6 1069.7,1017.1"/>
<polyline class="o" points="727.5,1019.6 730.9,1019.5 734.3,1019.5 737.8,1019.5 741.2,1019.5 744.6,1019.5 748.0,1019.5 751.5,1019.5 754.9,1019.4 758.3,1019.4 761.8,1019.4 765.2,1019.4 768.6,1019.4 772.0,1019.3 775.5,1019.3 778.9,1019.3 782.3,1019.2 785.7,1019.2 789.2,1019.2 792.6,1019.1 796.0,1019.1 799.5,1019.0 802.9,1019.0 806.3,1018.9 809.7,1018.8 813.2,1018.8 816.6,1018.7 820.0,1018.6 823.5,1018.5 826.9,1018.3 830.3,1018.2 833.7,1018.0 837.2,1017.8 840.6,1017.6 844.0,1017.3 847.4,1016.9 850.9,1016.3 854.3,1015.4 857.7,1013.9 861.2,1011.5 864.6,1007.5 868.0,1001.0 871.4,991.4 874.9,977.7 878.3,959.9 881.7,938.4 885.1,914.9 888.6,892.2 892.0,873.9 895.4,863.9 898.9,864.9 902.3,876.4 905.7,895.7 909.1,918.8 912.6,942.2 916.0,963.1 919.4,980.3 922.8,993.2 926.3,1002.3 929.7,1008.3 933.1,1012.0 936.6,1014.2 940.0,1015.6 943.4,1016.4 946.8,1016.9 950.3,1017.3 953.7,1017.6 957.1,1017.8 960.5,1018.0 964.0,1018.2 967.4,1018.4 970.8,1018.5 974.3,1018.6 977.7,1018.7 981.1,1018.8 984.5,1018.9 988.0,1018.9 991.4,1019.0 994.8,1019.0 998.3,1019.1 1001.7,1019.1 1005.1,1019.2 1008.5,1019.2 1012.0,1019.3 1015.4,1019.3 1018.8,1019.3 1022.2,1019.3 1025.7,1019.4 1029.1,1019.4 1032.5,1019.4 1036.0,1019.4 1039.4,1019.4 1042.8,1019.5 1046.2,1019.5 1049.7,1019.5 1053.1,1019.5 1056.5,1019.5 1059.9,1019.5 1063.4,1019.5 1066.8,1019.6 1070.2,1019.6"/>
</g>
<path class="t" d="M727.0 1064.6v7.0M796.0 1064.6v7.0M864.9 1064.6v7.0M933.9 1064.6v7.0M1002.8 1064.6v7.0M1071.8 1064.6v7.0M710.8 1019.8h-7.0M710.8 970.9h-7.0M710.8 922.1h-7.0M710.8 873.2h-7.0M710.8 824.4h-7.0"/>
<rect class="ax" x="710.8" y="785.0" width="375.4" height="279.6"/>
<text class="tk" x="727.0" y="1093.9" text-anchor="middle">1638</text>
<text class="tk" x="796.0" y="1093.9" text-anchor="middle">1639</text>
<text class="tk" x="864.9" y="1093.9" text-anchor="middle">1640</text>
<text class="tk" x="933.9" y="1093.9" text-anchor="middle">1641</text>
<text class="tk" x="1002.8" y="1093.9" text-anchor="middle">1642</text>
<text class="tk" x="1071.8" y="1093.9" text-anchor="middle">1643</text>
<text class="tk" x="696.8" y="1027.2" text-anchor="end">0</text>
<text class="tk" x="696.8" y="978.3" text-anchor="end">2</text>
<text class="tk" x="696.8" y="929.5" text-anchor="end">4</text>
<text class="tk" x="696.8" y="880.6" text-anchor="end">6</text>
<text class="tk" x="696.8" y="831.8" text-anchor="end">8</text>
<text class="ti" x="898.5" y="771.6" text-anchor="middle">HeII at 1640.47<tspan class="i">Å</tspan></text>
</g>
<g id="p13">
<clipPath id="c13"><rect x="1126.7" y="785.0" width="375.4" height="279.6"/></clipPath>
<rect x="1126.7" y="785.0" width="375.4" height="279.6" fill="#fff"/>
<g clip-path="url(#c13)">
<polyline class="b" points="1143.5,1052.3 1186.5,926.1 1229.2,987.3 1272.1,1010.3 1314.9,996.6 1357.6,797.0 1400.3,837.0 1443.3,930.4 1486.2,931.1"/>
<polyline class="o" points="1143.5,999.1 1186.5,998.8 1229.2,998.3 1272.1,996.1 1314.9,959.1 1357.6,821.2 1400.3,815.0 1443.3,954.1 1486.2,996.8"/>
</g>
<path class="t" d="M1141.3 1064.6v7.0M1214.1 1064.6v7.0M1286.9 1064.6v7.0M1359.7 1064.6v7.0M1432.5 1064.6v7.0M1126.7 999.1h-7.0M1126.7 934.7h-7.0M1126.7 870.3h-7.0M1126.7 805.9h-7.0M1126.7 1063.5h-7.0"/>
<rect class="ax" x="1126.7" y="785.0" width="375.4" height="279.6"/>
<text class="tk" x="1141.3" y="1093.9" text-anchor="middle">2790</text>
<text class="tk" x="1214.1" y="1093.9" text-anchor="middle">2792</text>
<text class="tk" x="1286.9" y="1093.9" text-anchor="middle">2794</text>
<text class="tk" x="1359.7" y="1093.9" text-anchor="middle">2796</text>
<text class="tk" x="1432.5" y="1093.9" text-anchor="middle">2798</text>
<text class="tk" x="1112.7" y="1006.5" text-anchor="end">0</text>
<text class="tk" x="1112.7" y="942.1" text-anchor="end">10</text>
<text class="tk" x="1112.7" y="877.7" text-anchor="end">20</text>
<text class="tk" x="1112.7" y="813.3" text-anchor="end">30</text>
<text class="tk" x="1112.7" y="1070.9" text-anchor="end">10</text>
<text class="ti" x="1314.4" y="771.6" text-anchor="middle">MgII at 2796.35<tspan class="i">Å</tspan></text>
</g>
<g id="p14">
<clipPath id="c14"><rect x="1542.6" y="785.0" width="375.4" height="279.6"/></clipPath>
<rect x="1542.6" y="785.0" width="375.4" height="279.6" fill="#fff"/>
<g clip-path="url(#c14)">
<polyline class="b" points="1559.5,1023.6 1602.5,979.9 1645.2,802.0 1688.1,839.5 1730.9,1038.6 1773.6,1015.6 1816.3,1019.3 1859.3,1051.5 1902.2,1036.1"/>
<polyline class="o" points="1559.5,1031.1 1602.5,991.8 1645.2,798.0 1688.1,845.5 1730.9,1011.1 1773.6,1030.6 1816.3,1031.8 1859.3,1031.8 1902.2,1031.8"/>
</g>
<path class="t" d="M1611.2 1064.6v7.0M1684.0 1064.6v7.0M1756.7 1064.6v7.0M1829.5 1064.6v7.0M1902.2 1064.6v7.0M1542.6 1032.3h-7.0M1542.6 963.0h-7.0M1542.6 893.7h-7.0M1542.6 824.4h-7.0"/>
<rect class="ax" x="1542.6" y="785.0" width="375.4" height="279.6"/>
<text class="tk" x="1611.2" y="1093.9" text-anchor="middle">2802</text>
<text class="tk" x="1684.0" y="1093.9" text-anchor="middle">2804</text>
<text class="tk" x="1756.7" y="1093.9" text-anchor="middle">2806</text>
<text class="tk" x="1829.5" y="1093.9" text-anchor="middle">2808</text>
<text class="tk" x="1902.2" y="1093.9" text-anchor="middle">2810</text>
<text class="tk" x="1528.6" y="1039.7" text-anchor="end">0</text>
<text class="tk" x="1528.6" y="970.4" text-anchor="end">10</text>
<text class="tk" x="1528.6" y="901.1" text-anchor="end">20</text>
<text class="tk" x="1528.6" y="831.8" text-anchor="end">30</text>
<text class="ti" x="1730.3" y="771.6" text-anchor="middle">MgII at 2803.53<tspan class="i">Å</tspan></text>
</g>
<text class="al" y="1137.5"><tspan x="992.1" letter-spacing="0.4">Wavelength</tspan><tspan x="1161.6"> (</tspan><tspan class="i" x="1180.4">Å</tspan><tspan x="1199.6">)</tspan></text>
<text class="al" transform="translate(44,839.7) rotate(-90)"><tspan x="-2.7" y="0.0" letter-spacing="1.10">Flux</tspan><tspan x="69.7" y="0.0" letter-spacing="1.25">Density</tspan><tspan x="193.5" y="0.0">(</tspan><tspan x="205.5" y="0.0" letter-spacing="1.00">10</tspan><tspan x="245.2" y="-12.1" font-size="19.2px" letter-spacing="0.90">−16</tspan><tspan x="298.4" y="0.0" letter-spacing="1.20">erg</tspan><tspan x="358.9" y="0.0" letter-spacing="1.20">cm</tspan><tspan x="404.8" y="-12.1" font-size="19.2px" letter-spacing="1.00">−2</tspan><tspan x="446.0" y="0.0">s</tspan><tspan x="462.7" y="-12.1" font-size="19.2px" letter-spacing="0.20">−1</tspan><tspan x="504.3" y="0.0" class="i">Å</tspan><tspan x="527.7" y="-12.1" font-size="19.2px" letter-spacing="0.20">−1</tspan><tspan x="555.0" y="0.0">)</tspan></text>
</svg></body></html>
